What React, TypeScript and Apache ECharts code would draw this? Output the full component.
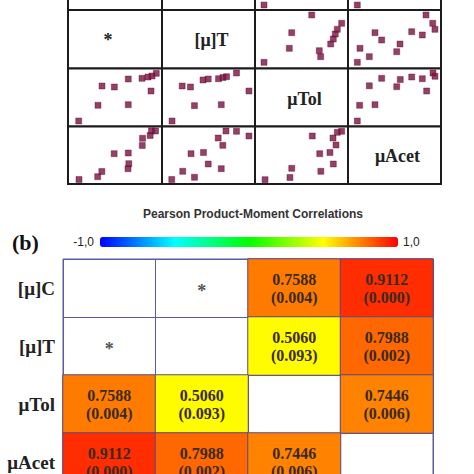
import React, { useEffect, useRef } from "react";
import * as echarts from "echarts";

// Variable names shared by the scatter matrix and the correlation map
const variables = ["[μ]C", "[μ]T", "μTol", "μAcet"];

// Scatter-matrix panels, points as [x %, y %] inside each panel
const panelCTol = [[9.7, 8.5], [36.6, 31.9], [69.8, 36.2], [68.1, 49.3], [81.9, 64.1], [37.6, 64.1], [83.1, 78.7], [85.3, 85.1], [87.1, 89.4], [91.7, 93.9], [61.2, 88.3]];
const panelCAcet = [[10, 8.5], [12.7, 31.6], [21.7, 36.0], [52.7, 49.1], [53.9, 64.1], [35.3, 64.7], [26.6, 63.8], [79.5, 79.3], [67.0, 79.0], [84.3, 87.4], [92.5, 88.8], [92.2, 93.1]];
const panelTTol = [[61.0, 91.5], [39.5, 61.2], [36.9, 34.5], [9.7, 10.6], [69.1, 30.4], [70.6, 20.2], [81.4, 41.9], [84.2, 50.4], [86.3, 59.0], [88.5, 67.0], [93.2, 77.3]];
const panelTAcet = [[10.0, 10.6], [12.9, 34.5], [22.9, 20.2], [29.0, 61.2], [36.2, 48.7], [52.4, 28.7], [55.9, 41.9], [68.5, 62.9], [79.9, 57.3], [83.9, 91.5], [91.1, 77.3], [93.5, 67.0]];
const panelTolC = [[11.4, 9.5], [31.9, 36.6], [36.2, 69.8], [49.3, 68.1], [64.1, 81.9], [64.1, 37.6], [78.7, 83.1], [85.1, 85.3], [89.4, 87.1], [93.9, 91.7], [88.3, 61.2]];
const panelTolT = [[10.8, 9.5], [21.7, 69.8], [30.6, 68.1], [34.9, 35.9], [44.1, 80.2], [49.7, 81.9], [60.8, 82.4], [63.7, 37.6], [65.6, 84.5], [69.4, 85.9], [80.1, 92.2], [93.5, 61.2]];
const panelTolAcet = [[10.0, 9.5], [12.5, 36.6], [29.0, 37.6], [22.9, 70.2], [36.2, 83.1], [52.4, 68.6], [56.2, 81.0], [68.5, 85.3], [79.9, 82.4], [84.6, 61.2], [91.4, 92.2], [93.5, 86.6]];
const panelAcetC = [[11.7, 7.8], [31.6, 12.7], [36.0, 21.7], [49.1, 52.7], [64.1, 53.9], [64.7, 35.3], [63.8, 26.6], [79.3, 79.5], [79.0, 67.0], [87.4, 84.3], [88.8, 92.5], [93.1, 92.2]];
const panelAcetT = [[10.5, 7.8], [22.3, 22.1], [34.9, 11.7], [31.2, 52.7], [44.6, 54.8], [49.7, 34.8], [63.7, 26.6], [60.4, 80.0], [65.4, 67.3], [68.8, 92.2], [80.1, 91.7], [93.5, 83.5]];
const panelAcetTol = [[10.8, 7.5], [37.6, 11.3], [39.5, 27.3], [70.8, 22.1], [69.6, 52.7], [61.6, 83.5], [80.6, 54.8], [84.2, 34.8], [83.9, 80.0], [87.1, 67.8], [88.5, 89.9], [93.2, 91.7]];

// Correlation coefficients (row, column) and their p-values
const corrValues: (number | null)[][] = [
  [null, null, 0.7588, 0.9112],
  [null, null, 0.506, 0.7988],
  [0.7588, 0.506, null, 0.7446],
  [0.9112, 0.7988, 0.7446, null],
];
const pValues: (string | null)[][] = [
  [null, null, "0.004", "0.000"],
  [null, null, "0.093", "0.002"],
  ["0.004", "0.093", null, "0.006"],
  ["0.000", "0.002", "0.006", null],
];
// Pairs marked with an asterisk: [row, column]
const starPairs = [[0, 1], [1, 0]];

// Colour scale end labels
const scaleMinLabel = "-1,0";
const scaleMaxLabel = "1,0";
const colorScale = ["#0000ff", "#00ffff", "#00ff00", "#ffff00", "#ff0000"];

const SERIF = "'Liberation Serif', 'Times New Roman', serif";
const SANS = "'Liberation Sans', Arial, sans-serif";

export default function App() {
  const ref = useRef<HTMLDivElement>(null);

  useEffect(() => {
    if (!ref.current) return;
    const chart = echarts.init(ref.current, null, { renderer: "svg" });

    const colEdges = [68, 162, 255, 348, 441];
    const rowEdges = [-48.5, 10, 68.5, 126.5, 184];
    const panels: Record<string, number[][]> = {
      "0-2": panelCTol,
      "0-3": panelCAcet,
      "1-2": panelTTol,
      "1-3": panelTAcet,
      "2-0": panelTolC,
      "2-1": panelTolT,
      "2-3": panelTolAcet,
      "3-0": panelAcetC,
      "3-1": panelAcetT,
      "3-2": panelAcetTol,
    };

    const grids: any[] = [];
    const xAxes: any[] = [];
    const yAxes: any[] = [];
    const series: any[] = [];
    const graphics: any[] = [];

    for (let r = 0; r < 4; r++) {
      for (let c = 0; c < 4; c++) {
        const idx = grids.length;
        const left = colEdges[c];
        const top = rowEdges[r];
        const width = colEdges[c + 1] - colEdges[c];
        const height = rowEdges[r + 1] - rowEdges[r];
        grids.push({
          left,
          top,
          width,
          height,
          outerBoundsMode: "none",
          show: true,
          backgroundColor: "#ffffff",
          borderColor: "#1c1c1c",
          borderWidth: 2,
        });
        xAxes.push({ type: "value", gridIndex: idx, min: 0, max: 100, show: false });
        yAxes.push({ type: "value", gridIndex: idx, min: 0, max: 100, show: false });
        const pts = panels[`${r}-${c}`];
        if (pts) {
          series.push({
            type: "scatter",
            xAxisIndex: idx,
            yAxisIndex: idx,
            symbol: "rect",
            symbolSize: 6,
            itemStyle: { color: "#7a1040", borderColor: "#5a0a2c", borderWidth: 0.5 },
            data: pts,
            silent: true,
          });
        }
        // panel captions (the top row lies above the visible area)
        if (top < 0) continue;
        let label: string | null = null;
        if (r === c) label = variables[r];
        else if (starPairs.some(([a, b]) => a === r && b === c)) label = "*";
        if (label) {
          graphics.push({
            type: "text",
            x: left + width / 2 + (label === "*" ? -7 : 3),
            y: top + height / 2 + 1,
            style: {
              text: label,
              fontFamily: SERIF,
              fontWeight: "bold",
              fontSize: 18,
              fill: "#222222",
              textAlign: "center",
              textVerticalAlign: "middle",
            },
          });
        }
      }
    }

    // Correlation map
    const hmIdx = grids.length;
    grids.push({
      left: 63,
      top: 259,
      width: 370,
      height: 232,
      outerBoundsMode: "none",
      show: true,
      backgroundColor: "#ffffff",
      borderColor: "#5b5aa6",
      borderWidth: 1,
    });
    const lineStyle = { color: "#5b5aa6", width: 1 };
    xAxes.push({
      type: "category",
      gridIndex: hmIdx,
      data: variables,
      axisLine: { show: false },
      axisTick: { show: false },
      axisLabel: { show: false },
      splitLine: { show: true, interval: 0, lineStyle },
    });
    yAxes.push({
      type: "category",
      gridIndex: hmIdx,
      data: variables,
      inverse: true,
      axisLine: { show: false },
      axisTick: { show: false },
      axisLabel: { fontFamily: SERIF, fontWeight: "bold", fontSize: 19, color: "#222", margin: 8 },
      splitLine: { show: true, interval: 0, lineStyle },
    });

    const heatData: any[] = [];
    corrValues.forEach((row, r) =>
      row.forEach((v, c) => {
        if (v !== null) heatData.push([c, r, v, pValues[r][c]]);
      })
    );
    const heatIndex = series.length;
    series.push({
      type: "heatmap",
      xAxisIndex: hmIdx,
      yAxisIndex: hmIdx,
      data: heatData,
      itemStyle: { borderColor: "#5e4a86", borderWidth: 1 },
      label: {
        show: true,
        formatter: (p: any) => `${p.data[2].toFixed(4)}\n(${p.data[3]})`,
        fontFamily: SERIF,
        fontWeight: "bold",
        fontSize: 16,
        lineHeight: 18,
        color: "#3a2a1c",
      },
      silent: true,
    });
    series.push({
      type: "scatter",
      xAxisIndex: hmIdx,
      yAxisIndex: hmIdx,
      symbolSize: 0,
      data: starPairs.map(([r, c]) => [c, r]),
      label: {
        show: true,
        position: "inside",
        formatter: "*",
        fontFamily: SERIF,
        fontWeight: "bold",
        fontSize: 18,
        color: "#222",
        offset: [0, 3],
      },
      silent: true,
    });

    graphics.push({
      type: "text",
      x: 12,
      y: 242,
      style: {
        text: "(b)",
        fontFamily: SERIF,
        fontWeight: "bold",
        fontSize: 22,
        fill: "#111",
        textVerticalAlign: "middle",
      },
    });
    graphics.push({
      type: "text",
      x: 94,
      y: 242,
      style: {
        text: scaleMinLabel,
        fontFamily: SANS,
        fontSize: 12,
        fill: "#222",
        textAlign: "right",
        textVerticalAlign: "middle",
      },
    });
    graphics.push({
      type: "text",
      x: 403,
      y: 242,
      style: {
        text: scaleMaxLabel,
        fontFamily: SANS,
        fontSize: 12,
        fill: "#222",
        textAlign: "left",
        textVerticalAlign: "middle",
      },
    });

    chart.setOption({
      animation: false,
      backgroundColor: "#ffffff",
      title: {
        text: "Pearson Product-Moment Correlations",
        left: 248,
        top: 203,
        textAlign: "center",
        textStyle: { fontFamily: SANS, fontWeight: "bold", fontSize: 12, color: "#333" },
      },
      grid: grids,
      xAxis: xAxes,
      yAxis: yAxes,
      visualMap: {
        type: "continuous",
        seriesIndex: heatIndex,
        dimension: 2,
        min: -1,
        max: 1,
        orient: "horizontal",
        left: 100,
        top: 237,
        padding: 0,
        itemWidth: 10,
        itemHeight: 298,
        calculable: false,
        hoverLink: false,
        inRange: { color: colorScale },
      },
      series,
      graphic: graphics,
    });

    return () => chart.dispose();
  }, []);

  return (
    <div
      ref={ref}
      style={{ position: "absolute", left: 0, top: 0, width: 474, height: 474 }}
    />
  );
}
